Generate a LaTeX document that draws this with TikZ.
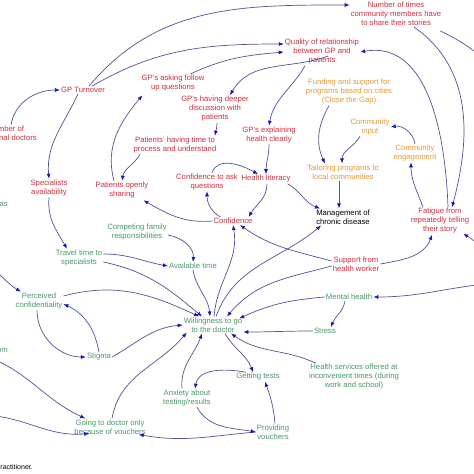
\documentclass[tikz,border=0pt]{standalone}
\usepackage{fontspec}
\setmainfont{Liberation Sans}
\usetikzlibrary{arrows.meta}
\definecolor{cldRed}{RGB}{205,45,60}
\definecolor{cldOrange}{RGB}{228,152,52}
\definecolor{cldGreen}{RGB}{72,150,104}
\definecolor{lineBlue}{RGB}{80,80,155}
\definecolor{tipBlue}{RGB}{22,22,190}
\tikzset{
  var/.style={align=center, inner sep=1pt, font=\fontsize{7.7}{9}\selectfont},
  redvar/.style={var, text=cldRed},
  orangevar/.style={var, text=cldOrange},
  greenvar/.style={var, text=cldGreen},
  blackvar/.style={var, text=black},
  link/.style={-{Latex[length=5pt,width=4pt,color=tipBlue]}, draw=lineBlue, line width=0.7pt}
}
\begin{document}
\begin{tikzpicture}[x=1pt,y=-1pt]
\useasboundingbox (0,0) rectangle (474,474);
\node[redvar] (numTimes) at (396,14) {Number of times\\community members have\\to share their stories};
\node[redvar] (quality) at (322,52) {Quality of relationship\\between GP and\\patients};
\node[redvar] (gpTurn) at (83,90) {GP Turnover};
\node[redvar] (numDoc) at (6,134) {Number of\\Aboriginal doctors};
\node[redvar] (gpAsk) at (173,83) {GP's asking follow\\up questions};
\node[redvar] (gpDeep) at (215,109) {GP's having deeper\\discussion with\\patients};
\node[redvar] (ptTime) at (175,145) {Patients' having time to\\process and understand};
\node[redvar] (gpExpl) at (269,135) {GP's explaining\\health clearly};
\node[redvar] (ptOpen) at (122,190) {Patients openly\\sharing};
\node[redvar] (spec) at (49,188) {Specialists\\availability};
\node[redvar] (confAsk) at (207,182) {Confidence to ask\\questions};
\node[redvar] (hlit) at (266,179) {Health literacy};
\node[redvar] (conf) at (233,221) {Confidence};
\node[orangevar] (fund) at (349,92) {Funding and support for\\programs based on cities\\(Close the Gap)};
\node[orangevar] (comIn) at (370,127) {Community\\input};
\node[orangevar] (comEng) at (415,153) {Community\\engagement};
\node[orangevar] (tailor) at (343,172) {Tailoring programs to\\local communities};
\node[blackvar] (mgmt) at (343,217) {Management of\\chronic disease};
\node[redvar] (fatigue) at (440,221) {Fatigue from\\repeatedly telling\\their story};
\node[redvar] (support) at (356,264) {Support from\\health worker};
\node[greenvar] (mental) at (349,297) {Mental health};
\node[greenvar] (compFam) at (137,232) {Competing family\\responsibilities};
\node[greenvar] (travel) at (79,258) {Travel time to\\specialists};
\node[greenvar] (avail) at (193,266) {Available time};
\node[greenvar] (percConf) at (39,301) {Perceived\\confidentiality};
\node[greenvar, anchor=east] (areas) at (9,205) {Living in remote areas};
\node[greenvar, anchor=east] (room) at (9,351) {Waiting room};
\node[greenvar] (stigma) at (99,357) {Stigma};
\node[greenvar] (will) at (213,325) {Willingness to go\\to the doctor};
\node[greenvar] (stress) at (325,331) {Stress};
\node[greenvar] (hserv) at (354,377) {Health services offered at\\inconvenient times (during\\work and school)};
\node[greenvar] (tests) at (258,377) {Getting tests};
\node[greenvar] (anxiety) at (187,398) {Anxiety about\\testing/results};
\node[greenvar] (vouch) at (273,432) {Providing\\vouchers};
\node[greenvar] (goVouch) at (110,427) {Going to doctor only\\because of vouchers};
\node[blackvar, anchor=east, font=\fontsize{7}{8}\selectfont] (caption) at (34,467) {GP, General Practitioner.};
\coordinate (offR0) at (500,75);
\coordinate (offR1) at (495,250);
\coordinate (offR2) at (495,283);
\coordinate (offL1) at (-20,265);
\coordinate (offL2) at (-20,415);

\draw[link] ([xshift=5pt]numDoc.north) to[out=80,in=180] (gpTurn.west);
\draw[link] ([xshift=6pt]gpTurn.north) to[out=50,in=180] ([yshift=9pt]numTimes.west);
\draw[link] ([xshift=9pt]gpTurn.north) to[out=30,in=180] ([yshift=8pt]quality.west);
\draw[link] ([xshift=-5pt]gpTurn.south) to[out=-115,in=95] (spec.north);
\draw[link] ([xshift=18pt]gpAsk.north) to[out=25,in=185] (quality.west);
\draw[link] ([xshift=-32pt,yshift=-4pt]quality.east) to[out=200,in=60] ([xshift=15pt]gpDeep.north);
\draw[link] ([xshift=2pt]gpDeep.south) to[out=-90,in=80] ([xshift=40pt]ptTime.north);
\draw[link] ([xshift=-35pt]ptTime.south) to[out=-120,in=80] (ptOpen.north);
\draw[link] ([xshift=-8pt]ptOpen.north) to[out=105,in=-130] ([xshift=2pt,yshift=-3pt]gpAsk.south west);
\draw[link] ([xshift=-17pt]quality.south) to[out=-120,in=80] (gpExpl.north);
\draw[link] (gpExpl.south) to[out=-90,in=90] (hlit.north);
\draw[link] ([xshift=5pt]confAsk.north) to[out=70,in=150] ([xshift=-8pt]hlit.north);
\draw[link] ([xshift=-4pt]hlit.south east) to[out=-30,in=160] ([xshift=5pt]mgmt.north west);
\draw[link] ([xshift=1pt]hlit.south) to[out=-90,in=60] ([xshift=-5pt]conf.north east);
\draw[link] ([xshift=8pt]conf.north west) to[out=150,in=-90] (confAsk.south);
\draw[link] (conf.west) to[out=185,in=-30] ([xshift=-6pt,yshift=-1pt]ptOpen.south east);
\draw[link] ([xshift=-20pt]fund.south) to[out=-120,in=115] ([xshift=-18pt]tailor.north);
\draw[link] ([xshift=-10pt]comIn.south) to[out=-120,in=90] ([xshift=-1pt]tailor.north);
\draw[link] (comEng.north) to[out=100,in=10] (comIn.east);
\draw[link] ([xshift=-4pt]tailor.south) -- ([xshift=-4pt]mgmt.north);
\draw[link] ([xshift=-17pt]fatigue.north) to[out=110,in=-90] ([xshift=-4pt]comEng.south);
\draw[link] ([xshift=18pt]numTimes.south) to[out=-35,in=75] ([xshift=12pt]fatigue.north);
\draw[link] ([xshift=8pt]fatigue.north) to[out=92,in=10] (quality.east);
\draw[link] ([xshift=-2pt,yshift=-4pt]numTimes.south east) to[out=-25,in=135] (offR0);
\draw[link] (offR1) to[out=180,in=-30] ([xshift=-7pt,yshift=1pt]fatigue.south east);
\draw[link] (support.east) to[out=10,in=-110] ([xshift=-8pt]fatigue.south);
\draw[link] (offR2) to[out=185,in=0] (mental.east);
\draw[link] ([yshift=4pt]travel.east) to[out=0,in=170] (avail.west);
\draw[link] (spec.south) to[out=-95,in=120] ([xshift=-12pt]travel.north);
\draw[link] ([yshift=-3pt]compFam.east) to[out=-10,in=85] (avail.north);
\draw[link] ([yshift=-4pt]travel.east) to[out=-12,in=140] ([xshift=-11pt]will.north);
\draw[link] (avail.south) to[out=-80,in=95] ([xshift=-3pt]will.north);
\draw[link] ([yshift=5pt]percConf.east) to[out=15,in=155] ([xshift=-14pt]will.north);
\draw[link] (offL1) to[out=-10,in=150] ([xshift=-18pt]percConf.north);
\draw[link] ([xshift=-2pt]percConf.south) to[out=-90,in=180] (stigma.west);
\draw[link] (stigma.north) to[out=100,in=-25] ([yshift=-3pt]percConf.east);
\draw[link] (stigma.east) to[out=30,in=185] (will.west);
\draw[link] ([xshift=2pt]goVouch.north) to[out=80,in=-130] ([xshift=4pt,yshift=1pt]will.south west);
\draw[link] (room.south) to[out=-20,in=155] ([xshift=12pt]goVouch.north west);
\draw[link] (offL2) to[out=0,in=185] ([xshift=16pt,yshift=2pt]goVouch.south west);
\draw[link] (vouch.west) to[out=185,in=-10] ([xshift=-8pt,yshift=1pt]goVouch.south east);
\draw[link] ([xshift=-5pt]anxiety.north) to[out=95,in=-110] ([xshift=-11pt]will.south);
\draw[link] ([xshift=-12pt]tests.north) to[out=170,in=80] ([xshift=8pt]anxiety.north);
\draw[link] ([xshift=10pt]anxiety.south) to[out=-60,in=170] (vouch.west);
\draw[link] ([xshift=2pt]vouch.north) to[out=95,in=-70] ([xshift=7pt]tests.south);
\draw[link] ([xshift=12pt]will.south) to[out=-60,in=110] ([xshift=-5pt]tests.north);
\draw[link] ([xshift=8pt]hserv.north west) to[out=155,in=-35] ([xshift=18pt]will.south);
\draw[link] (stress.west) to[out=180,in=0] ([yshift=-7pt]will.east);
\draw[link] ([xshift=-4pt]mental.south) to[out=-100,in=70] ([xshift=6pt]stress.north);
\draw[link] (mental.west) to[out=185,in=25] ([xshift=-4pt,yshift=-2pt]will.north east);
\draw[link] ([yshift=-2pt]support.west) to[out=195,in=50] ([xshift=14pt]will.north);
\draw[link] ([xshift=3pt]will.north) to[out=70,in=-140] ([xshift=6pt]mgmt.south west);
\draw[link] ([xshift=1pt]will.north) to[out=85,in=-80] (conf.south);
\draw[link] ([yshift=3pt]support.west) to[out=165,in=-35] ([xshift=7pt]conf.south);
\end{tikzpicture}
\end{document}
